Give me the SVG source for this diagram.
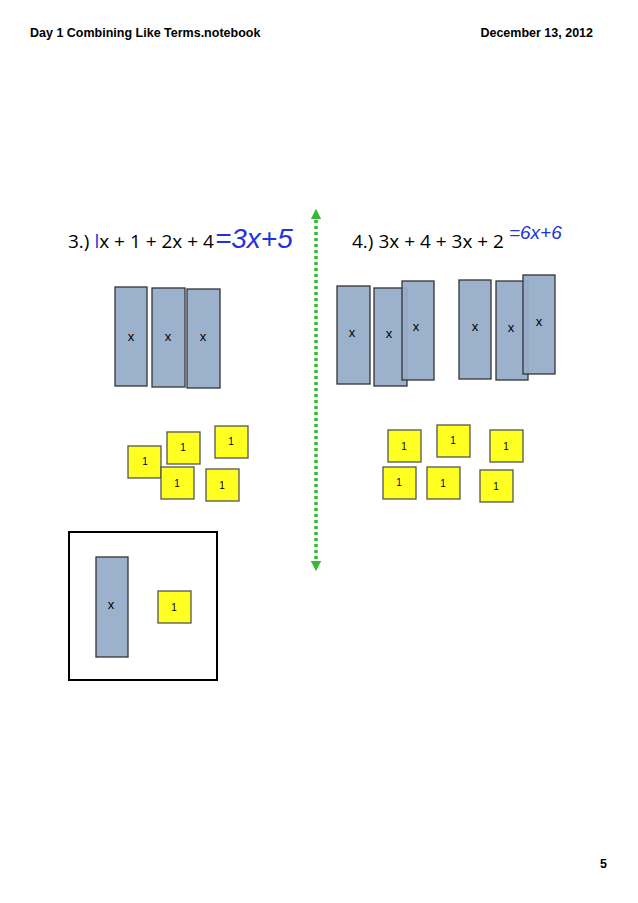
<svg xmlns="http://www.w3.org/2000/svg" width="638" height="903" viewBox="0 0 638 903">
<style>
.h{font-family:"Liberation Sans",Arial,sans-serif;font-weight:bold;font-size:12.5px;fill:#000}
.eq{font-family:"Open Sans","Liberation Sans",sans-serif;font-size:19px;fill:#000}
.hw{font-family:"Liberation Sans",sans-serif;font-style:italic;fill:#2233dd}
.bar{fill:#97adc8;stroke:#333;stroke-width:1.3;fill-opacity:0.95}
.one{fill:#ffff22;stroke:#555;stroke-width:1.3}
.bl{font-family:"Liberation Sans",sans-serif;font-size:13px;text-anchor:middle}
.ol{font-family:"Liberation Sans",sans-serif;font-size:10px;text-anchor:middle}
</style>
<defs><marker id="ar" viewBox="0 0 10 10" refX="5" refY="5" markerWidth="3" markerHeight="3" orient="auto-start-reverse"><path d="M0,0L10,5L0,10z" fill="#33bb33"/></marker></defs>
<rect width="638" height="903" fill="#fff"/>
<text class="h" x="30" y="37">Day 1 Combining Like Terms.notebook</text>
<text class="h" x="593" y="37" text-anchor="end">December 13, 2012</text>
<text class="h" x="600" y="868">5</text>
<g id="connectors"><line x1="316" y1="214" x2="316" y2="566" stroke="#33bb33" stroke-width="3.5" stroke-dasharray="3,3" marker-start="url(#ar)" marker-end="url(#ar)"/></g>
<g id="eq3"><text class="eq" x="68" y="248">3.) <tspan fill="#2233dd">l</tspan>x + 1 + 2x + 4<tspan class="hw" font-size="28" dx="1">=3x+5</tspan></text></g>
<g id="eq4"><text class="eq" x="352" y="248">4.)  3x + 4 + 3x + 2 <tspan class="hw" font-size="19" dy="-9">=6x+6</tspan></text></g>
<g id="leftbars">
<rect class="bar" x="115" y="287" width="32" height="99"/><text class="bl" x="131" y="341">x</text>
<rect class="bar" x="152" y="288" width="33" height="99"/><text class="bl" x="168" y="341">x</text>
<rect class="bar" x="187" y="289" width="33" height="99"/><text class="bl" x="203" y="341">x</text>
</g>
<g id="rightbars">
<rect class="bar" x="337" y="286" width="33" height="98"/><text class="bl" x="352" y="337">x</text>
<rect class="bar" x="374" y="288" width="33" height="98"/><text class="bl" x="389" y="338">x</text>
<rect class="bar" x="402" y="281" width="32" height="99"/><text class="bl" x="416" y="331">x</text>
<rect class="bar" x="459" y="280" width="32" height="99"/><text class="bl" x="475" y="331">x</text>
<rect class="bar" x="496" y="281" width="32" height="99"/><text class="bl" x="511" y="332">x</text>
<rect class="bar" x="523" y="275" width="32" height="99"/><text class="bl" x="539" y="326">x</text>
</g>
<g id="leftones">
<rect class="one" x="128" y="446" width="33" height="32"/><text class="ol" x="145" y="465">1</text>
<rect class="one" x="167" y="432" width="33" height="32"/><text class="ol" x="183" y="451">1</text>
<rect class="one" x="215" y="426" width="33" height="32"/><text class="ol" x="231" y="445">1</text>
<rect class="one" x="161" y="467" width="33" height="32"/><text class="ol" x="177" y="487">1</text>
<rect class="one" x="206" y="469" width="33" height="32"/><text class="ol" x="222" y="489">1</text>
</g>
<g id="rightones">
<rect class="one" x="388" y="430" width="33" height="32"/><text class="ol" x="404" y="450">1</text>
<rect class="one" x="437" y="425" width="33" height="32"/><text class="ol" x="453" y="444">1</text>
<rect class="one" x="490" y="430" width="33" height="32"/><text class="ol" x="506" y="450">1</text>
<rect class="one" x="383" y="467" width="33" height="32"/><text class="ol" x="399" y="486">1</text>
<rect class="one" x="427" y="467" width="33" height="32"/><text class="ol" x="443" y="487">1</text>
<rect class="one" x="480" y="470" width="33" height="32"/><text class="ol" x="496" y="490">1</text>
</g>
<g id="answerbox">
<rect x="69" y="532" width="148" height="148" fill="none" stroke="#000" stroke-width="2"/>
<rect class="bar" x="96" y="557" width="32" height="100"/><text class="bl" x="111" y="609">x</text>
<rect class="one" x="158" y="591" width="33" height="32"/><text class="ol" x="174" y="611">1</text>
</g>
</svg>
